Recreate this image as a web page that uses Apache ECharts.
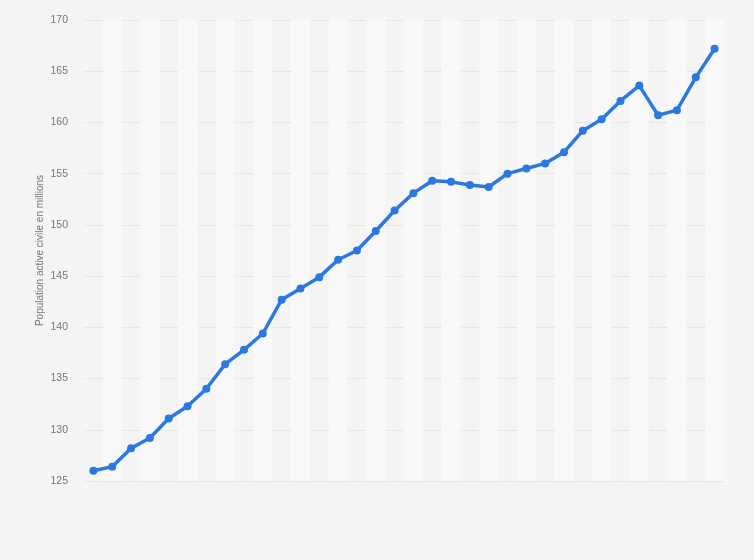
<!DOCTYPE html>
<html><head><meta charset="utf-8">
<script src="https://cdn.jsdelivr.net/npm/echarts@6/dist/echarts.min.js"></script>
<style>html,body{margin:0;padding:0;background:#f4f4f4}#c{width:754px;height:560px}</style>
</head><body><div id="c"></div>
<script>
const years = ['1990','1991','1992','1993','1994','1995','1996','1997','1998','1999','2000','2001','2002','2003','2004','2005','2006','2007','2008','2009','2010','2011','2012','2013','2014','2015','2016','2017','2018','2019','2020','2021','2022','2023'];
const laborForce = [126.0,126.4,128.2,129.2,131.1,132.3,134.0,136.4,137.8,139.4,142.7,143.8,144.9,146.6,147.5,149.4,151.4,153.1,154.3,154.2,153.9,153.7,155.0,155.5,156.0,157.1,159.2,160.3,162.1,163.6,160.7,161.2,164.4,167.2];
const yTicks = {min:125, max:170, interval:5};
const chart = echarts.init(document.getElementById('c'));
chart.setOption({
  backgroundColor:'#f4f4f4',
  animation:false,
  grid:{left:84, right:30, top:20, bottom:79},
  xAxis:{type:'category', data:years, boundaryGap:true,
    axisLine:{show:false}, axisTick:{show:false}, axisLabel:{show:false, interval:0},
    splitLine:{show:false},
    splitArea:{show:true, interval:0, areaStyle:{color:['rgba(0,0,0,0)','#f8f8f8']}}},
  yAxis:{type:'value', min:yTicks.min, max:yTicks.max, interval:yTicks.interval,
    name:'Population active civile en millions', nameLocation:'middle', nameGap:39,
    nameMoveOverlap:false,
    nameTextStyle:{color:'#777', fontSize:10, fontFamily:'Arial, Liberation Sans'},
    axisLine:{show:false}, axisTick:{show:false},
    axisLabel:{color:'#777', fontSize:10.5, margin:16, fontFamily:'Arial, Liberation Sans'},
    splitLine:{lineStyle:{color:'#d8d8d8', type:'dotted', width:1}}},
  series:[{type:'line', data:laborForce, symbol:'circle', symbolSize:8,
    lineStyle:{color:'#2a78e0', width:3.5}, itemStyle:{color:'#2a78e0'}}]
});
</script></body></html>
